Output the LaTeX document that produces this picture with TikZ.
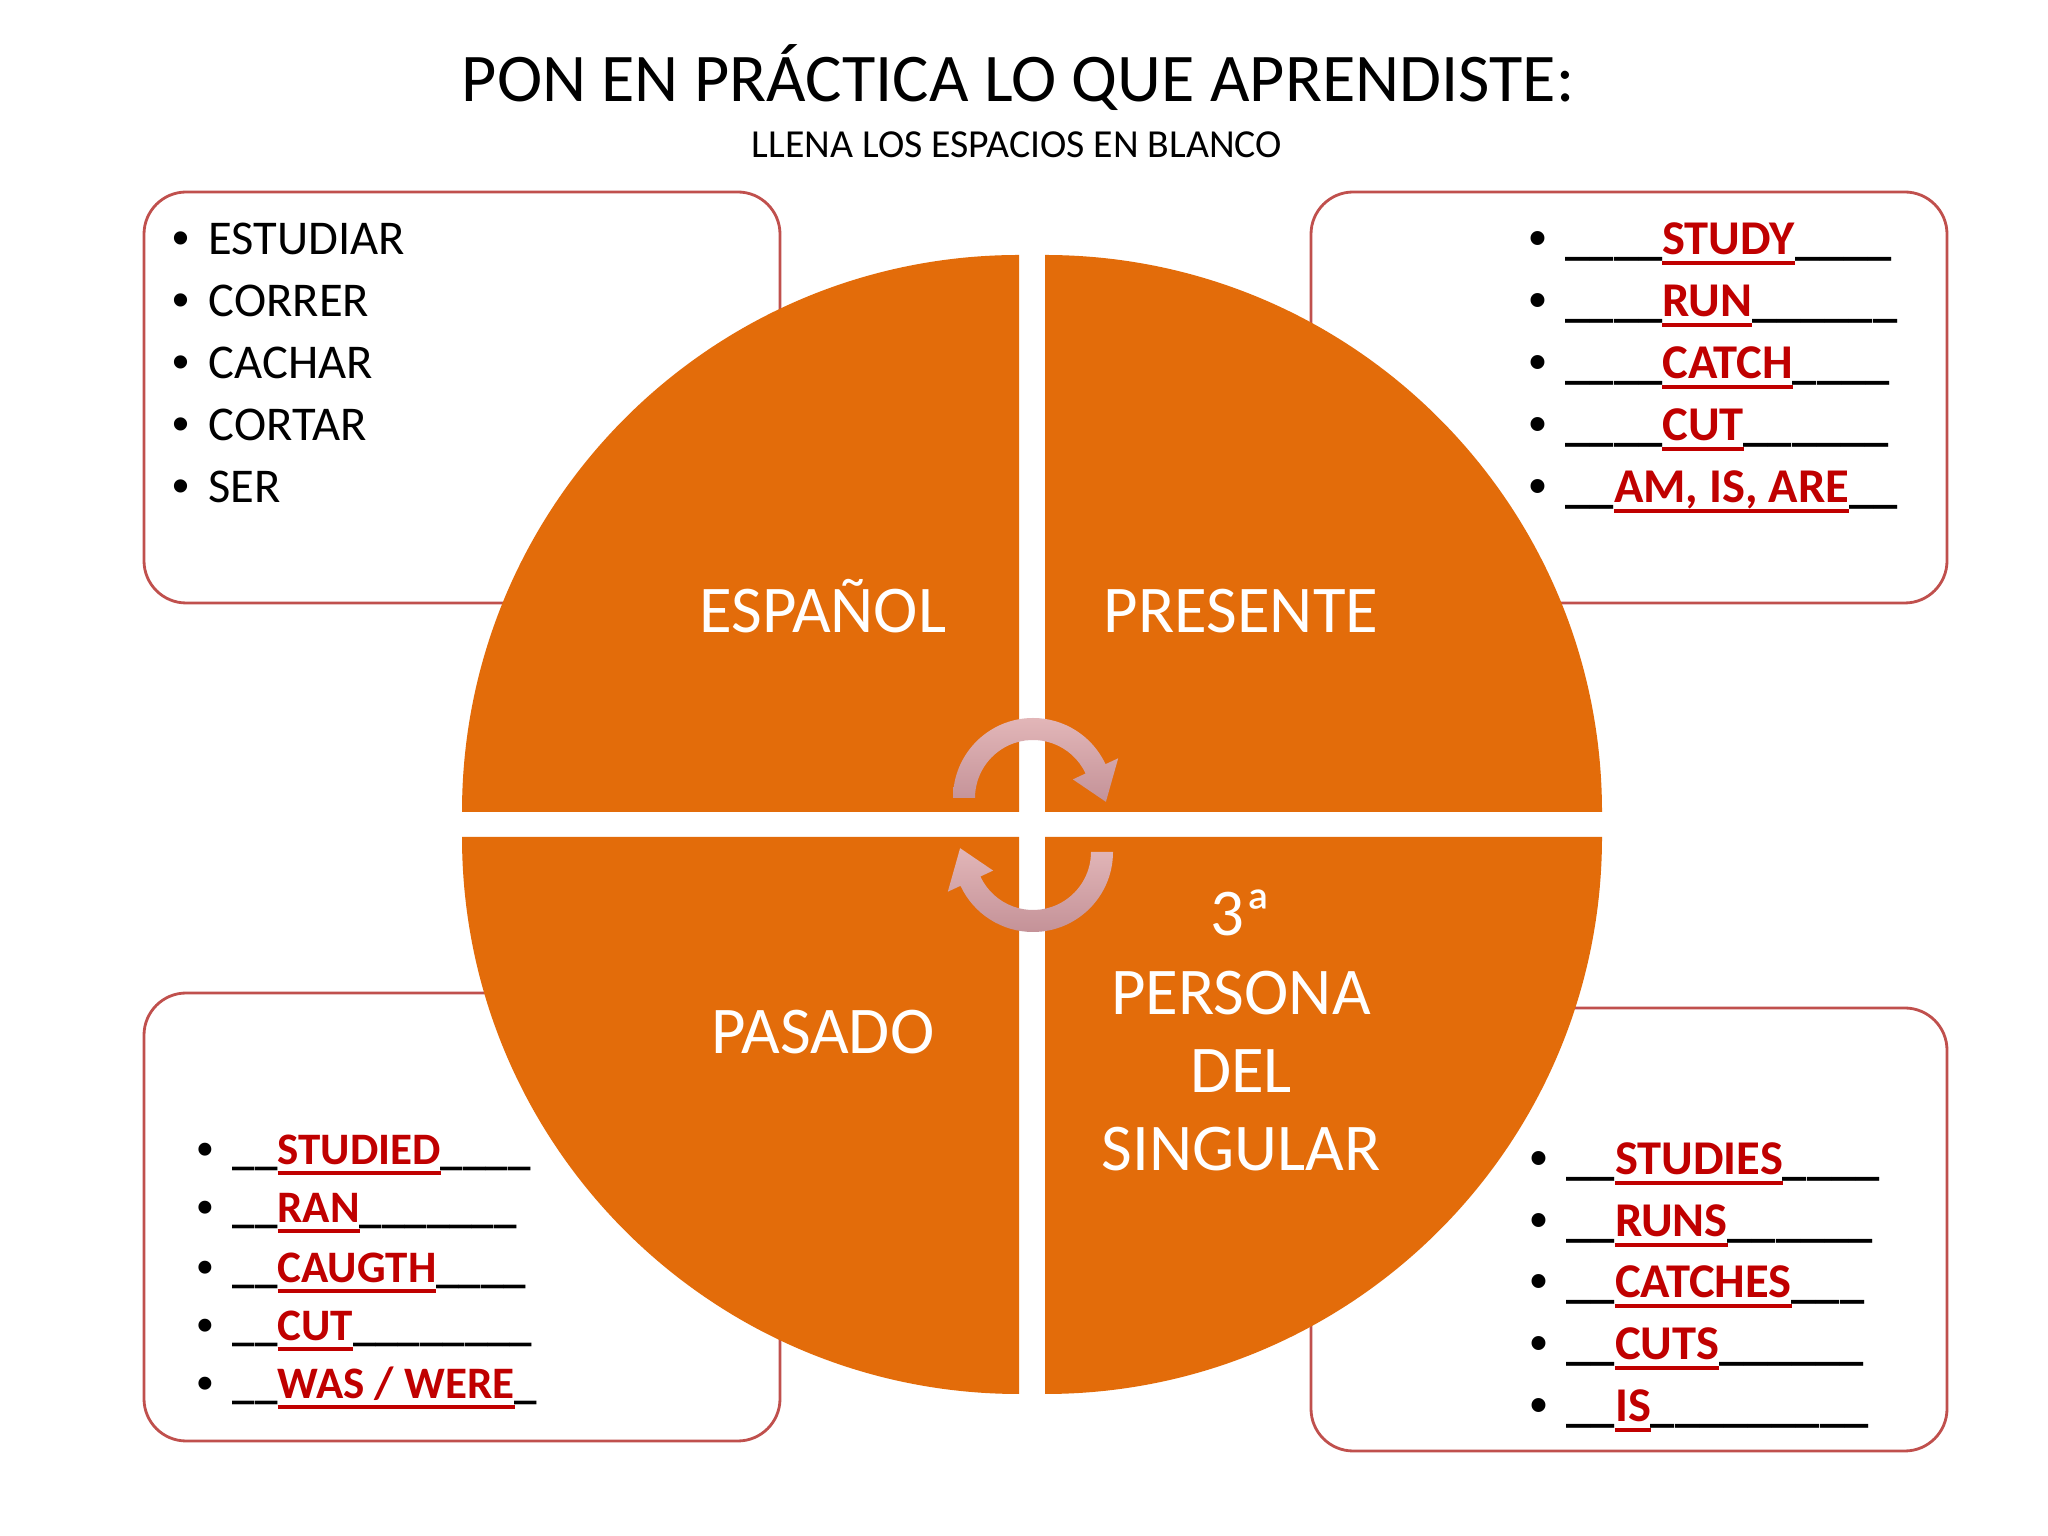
\documentclass[tikz,border=0pt]{standalone}
\usepackage{fontspec}
\setmainfont{Carlito}
\newfontfamily\bulletfont{Liberation Sans}
\definecolor{pieorange}{RGB}{227,108,10}
\definecolor{boxred}{RGB}{192,80,77}
\definecolor{ansred}{RGB}{192,0,0}
\definecolor{arrowtop}{RGB}{226,182,184}
\definecolor{arrowbottom}{RGB}{196,146,152}
\newcommand{\bul}{\llap{{\bulletfont •}\hspace{5.4pt}}}
\newcommand{\ans}[1]{{\color{ansred}\setbox0=\hbox{#1}\rlap{\rule[-2.9pt]{\wd0}{1.15pt}}\box0}}
\begin{document}
\begin{tikzpicture}[x=0.01cm,y=0.01cm,
    answerbox/.style={draw=boxred,line width=0.8pt,rounded corners=12pt,fill=white},
    quarter/.style={fill=pieorange},
    turn/.style={top color=arrowtop,bottom color=arrowbottom},
    pielabel/.style={text=white,inner sep=0pt,font=\fontsize{19}{22.3}\selectfont},
    listline/.style={anchor=base west,inner sep=0pt,font=\fontsize{13.8}{16}\selectfont},
    blankline/.style={listline,font=\fontsize{13.8}{16}\selectfont\bfseries},
    smallblank/.style={listline,font=\fontsize{12.8}{15}\selectfont\bfseries}]
    \fill[white] (0,0) rectangle (2048,1536);
    \useasboundingbox (0,0) rectangle (2048,1536);

    \node[anchor=base,inner sep=0pt,font=\fontsize{19.4}{23}\selectfont] (title) at (1018,1434) {PON EN PRÁCTICA LO QUE APRENDISTE:};
    \node[anchor=base,inner sep=0pt,font=\fontsize{11.3}{13}\selectfont] (subtitle) at (1017,1378) {LLENA LOS ESPACIOS EN BLANCO};

    \draw[answerbox] (144,933) rectangle (780,1344);
    \draw[answerbox] (1311,933) rectangle (1947,1344);
    \draw[answerbox] (144,95) rectangle (780,543);
    \draw[answerbox] (1311,85) rectangle (1947,528);

    \fill[quarter] (1019,724) -- ++(180:557) arc[start angle=180,end angle=90,radius=557] -- cycle;
    \fill[quarter] (1045,724) -- ++(90:557) arc[start angle=90,end angle=0,radius=557] -- cycle;
    \fill[quarter] (1019,699) -- ++(270:557) arc[start angle=270,end angle=180,radius=557] -- cycle;
    \fill[quarter] (1045,699) -- ++(0:557) arc[start angle=0,end angle=-90,radius=557] -- cycle;

    \begin{scope}[shift={(1033,738)}]
        \shade[turn] (180:80) arc[start angle=180,end angle=25,radius=80] -- (25:94) -- (-3:73) -- (25:44) -- (25:58) arc[start angle=25,end angle=180,radius=58] -- cycle;
    \end{scope}
    \begin{scope}[shift={(1033,684)},rotate=180]
        \shade[turn] (180:80) arc[start angle=180,end angle=25,radius=80] -- (25:94) -- (-3:73) -- (25:44) -- (25:58) arc[start angle=25,end angle=180,radius=58] -- cycle;
    \end{scope}

    \node[pielabel,anchor=base] (espanol) at (823,903) {ESPAÑOL};
    \node[pielabel,anchor=base] (presente) at (1241,903) {PRESENTE};
    \node[pielabel,anchor=base] (pasado) at (823,482) {PASADO};
    \node[pielabel,anchor=base,align=center] (tercera) at (1241,365) {3ª\\PERSONA\\DEL\\SINGULAR};

    \node[listline] (es1) at (208,1281) {\bul ESTUDIAR};
    \node[listline] (es2) at (208,1219) {\bul CORRER};
    \node[listline] (es3) at (208,1157) {\bul CACHAR};
    \node[listline] (es4) at (208,1095) {\bul CORTAR};
    \node[listline] (es5) at (208,1033) {\bul SER};

    \node[blankline] (pres1) at (1565,1281) {\bul\_\_\_\_\ans{STUDY}\_\_\_\_};
    \node[blankline] (pres2) at (1565,1219) {\bul\_\_\_\_\ans{RUN}\_\_\_\_\_\_};
    \node[blankline] (pres3) at (1565,1157) {\bul\_\_\_\_\ans{CATCH}\_\_\_\_};
    \node[blankline] (pres4) at (1565,1095) {\bul\_\_\_\_\ans{CUT}\_\_\_\_\_\_};
    \node[blankline] (pres5) at (1565,1033) {\bul\_\_\ans{AM, IS, ARE}\_\_};

    \node[smallblank] (past1) at (232,371) {\bul\_\_\ans{STUDIED}\_\_\_\_};
    \node[smallblank] (past2) at (232,313) {\bul\_\_\ans{RAN}\_\_\_\_\_\_\_};
    \node[smallblank] (past3) at (232,253) {\bul\_\_\ans{CAUGTH}\_\_\_\_};
    \node[smallblank] (past4) at (232,195) {\bul\_\_\ans{CUT}\_\_\_\_\_\_\_\_};
    \node[smallblank] (past5) at (232,137) {\bul\_\_\ans{WAS / WERE}\_};

    \node[blankline] (third1) at (1566,361) {\bul\_\_\ans{STUDIES}\_\_\_\_};
    \node[blankline] (third2) at (1566,299) {\bul\_\_\ans{RUNS}\_\_\_\_\_\_};
    \node[blankline] (third3) at (1566,238) {\bul\_\_\ans{CATCHES}\_\_\_};
    \node[blankline] (third4) at (1566,176) {\bul\_\_\ans{CUTS}\_\_\_\_\_\_};
    \node[blankline] (third5) at (1566,114) {\bul\_\_\ans{IS}\_\_\_\_\_\_\_\_\_};
\end{tikzpicture}
\end{document}
